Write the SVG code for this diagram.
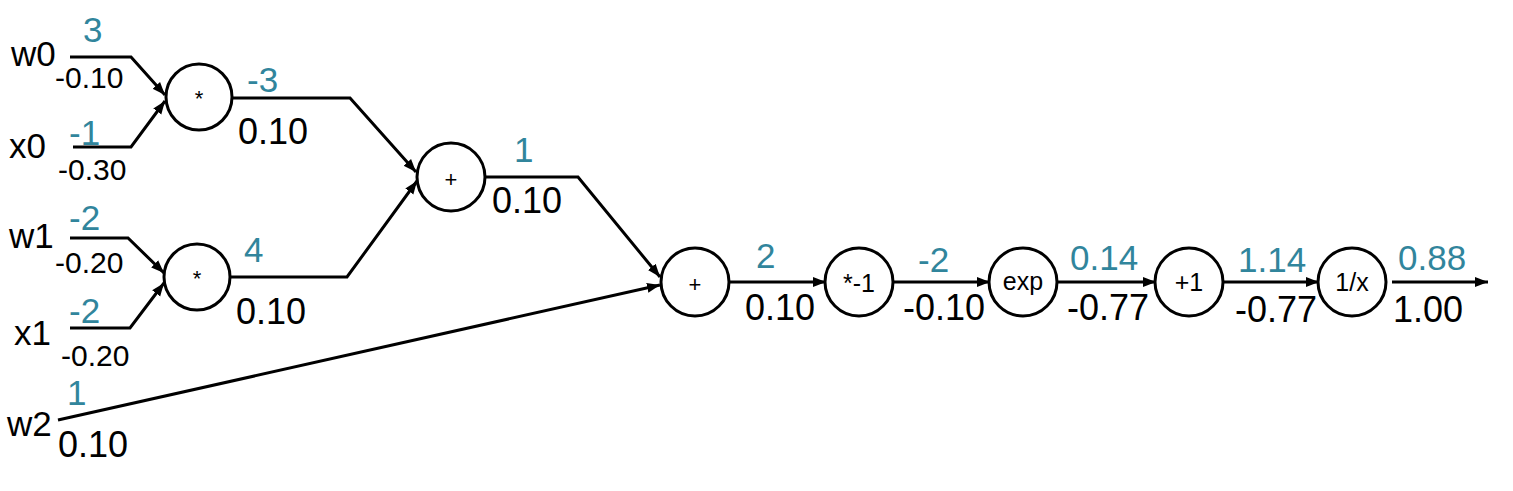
<svg xmlns="http://www.w3.org/2000/svg" width="1513" height="491" viewBox="0 0 1513 491">
<defs>
<marker id="arr" markerUnits="userSpaceOnUse" markerWidth="14" markerHeight="12" refX="13" refY="6" orient="auto">
<path d="M0,1 L13,6 L0,11 Z" fill="#000"/>
</marker>
<style>
.n{fill:#fff;stroke:#000;stroke-width:3}
.c{fill:none;stroke:#000;stroke-width:3;marker-end:url(#arr)}
text{font-family:"Liberation Sans",Arial,sans-serif}
.v{fill:#31859c;font-size:35px}
.g{fill:#000;font-size:36px}
.gs{fill:#000;font-size:30px}
.lab{fill:#000;font-size:35px}
.op{fill:#000;font-size:22px;text-anchor:middle}
.op2{fill:#000;font-size:25px;text-anchor:middle}
</style>
</defs>
<rect width="1513" height="491" fill="#fff"/>
<g id="connectors">
<path class="c" d="M70,57 H131 L165,95"/>
<path class="c" d="M73,147 H131 L165,101"/>
<path class="c" d="M70,238 H128 L164,273"/>
<path class="c" d="M70,328 H130 L164,283"/>
<path class="c" d="M232,98 H350 L416,172"/>
<path class="c" d="M230,277 H347 L417,181"/>
<path class="c" d="M486,177 H578 L660,277"/>
<path class="c" d="M58,420 L660,285"/>
<path class="c" d="M729,282 H826"/>
<path class="c" d="M893,282 H990"/>
<path class="c" d="M1057,282 H1156"/>
<path class="c" d="M1223,282 H1319"/>
<path class="c" d="M1392,282 H1488"/>
</g>
<g id="mul1"><circle class="n" cx="199" cy="97" r="33"/><text class="op" x="199" y="106">*</text></g>
<g id="mul2"><circle class="n" cx="197" cy="277" r="33"/><text class="op" x="197" y="286">*</text></g>
<g id="add1"><circle class="n" cx="451" cy="177" r="34"/><text class="op" x="451" y="187">+</text></g>
<g id="add2"><circle class="n" cx="695" cy="282" r="34"/><text class="op" x="695" y="292">+</text></g>
<g id="neg"><circle class="n" cx="859" cy="282" r="34"/><text class="op2" x="859" y="292">*-1</text></g>
<g id="exp"><circle class="n" cx="1023" cy="282" r="34"/><text class="op2" x="1023" y="290">exp</text></g>
<g id="plus1"><circle class="n" cx="1189" cy="282" r="34"/><text class="op2" x="1189" y="291">+1</text></g>
<g id="inv"><circle class="n" cx="1352" cy="282" r="34"/><text class="op2" x="1352" y="291">1/x</text></g>
<g id="labels">
<text class="lab" x="11" y="66">w0</text>
<text class="lab" x="9" y="158">x0</text>
<text class="lab" x="9" y="248">w1</text>
<text class="lab" x="14" y="345">x1</text>
<text class="lab" x="7" y="436">w2</text>
<text class="v" x="83" y="42">3</text>
<text class="gs" x="55" y="88">-0.10</text>
<text class="v" x="69" y="145">-1</text>
<text class="gs" x="58" y="180">-0.30</text>
<text class="v" x="69" y="230">-2</text>
<text class="gs" x="55" y="273">-0.20</text>
<text class="v" x="69" y="323">-2</text>
<text class="gs" x="61" y="366">-0.20</text>
<text class="v" x="67" y="405">1</text>
<text class="g" x="58" y="457">0.10</text>
<text class="v" x="247" y="92">-3</text>
<text class="g" x="238" y="144">0.10</text>
<text class="v" x="244" y="262">4</text>
<text class="g" x="236" y="324">0.10</text>
<text class="v" x="514" y="162">1</text>
<text class="g" x="492" y="213">0.10</text>
<text class="v" x="756" y="268">2</text>
<text class="g" x="745" y="320">0.10</text>
<text class="v" x="918" y="272">-2</text>
<text class="g" x="903" y="320">-0.10</text>
<text class="v" x="1070" y="270">0.14</text>
<text class="g" x="1067" y="320">-0.77</text>
<text class="v" x="1238" y="272">1.14</text>
<text class="g" x="1235" y="322">-0.77</text>
<text class="v" x="1398" y="270">0.88</text>
<text class="g" x="1393" y="322">1.00</text>
</g>
</svg>
